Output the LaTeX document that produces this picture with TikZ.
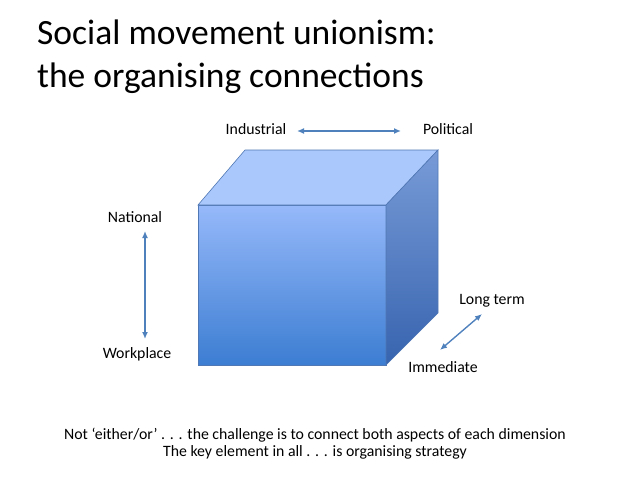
\documentclass[tikz,border=0pt]{standalone}
\usepackage{fontspec}
\usetikzlibrary{arrows.meta}
\setmainfont{Carlito}
\definecolor{frontTop}{RGB}{150,185,250}
\definecolor{frontBot}{RGB}{60,125,210}
\definecolor{topC}{RGB}{170,200,252}
\definecolor{sideTop}{RGB}{120,155,215}
\definecolor{sideBot}{RGB}{55,100,175}
\definecolor{edge}{RGB}{80,120,180}
\definecolor{arr}{RGB}{79,129,189}
\begin{document}
\begin{tikzpicture}[x=1pt,y=-1pt,
  lab/.style={font=\fontsize{15.8}{18}\selectfont,inner sep=0pt},
  dbl/.style={{Latex[length=7pt,width=6pt]}-{Latex[length=7pt,width=6pt]},draw=arr,line width=1.4pt}]
\useasboundingbox (0,0) rectangle (638,479);
% cube
\shade[top color=frontTop,bottom color=frontBot,draw=edge,line width=0.6pt] (198,205) rectangle (386,365);
\fill[topC,draw=edge,line width=0.6pt] (198,205) -- (245,150) -- (438,150) -- (386,205) -- cycle;
\shade[top color=sideTop,bottom color=sideBot,draw=edge,line width=0.6pt] (386,205) -- (438,150) -- (438,313) -- (386,365) -- cycle;
% title
\node[anchor=base west,font=\fontsize{35.5}{40}\selectfont,inner sep=0pt] (t1) at (37,45) {Social movement unionism:};
\node[anchor=base west,font=\fontsize{35.5}{40}\selectfont,inner sep=0pt] (t2) at (37,87) {the organising connections};
% labels
\node[lab] (ind) at (256,129) {Industrial};
\node[lab] (pol) at (448,129) {Political};
\node[lab] (nat) at (135,217) {National};
\node[lab] (wp) at (137,354) {Workplace};
\node[lab] (lt) at (492,301) {Long term};
\node[lab] (imm) at (443,367) {Immediate};
\coordinate (a1) at (297,131); \coordinate (a2) at (401,131);
\coordinate (b1) at (145,231); \coordinate (b2) at (145,339);
\coordinate (c1) at (440,350); \coordinate (c2) at (482,314);
\draw[dbl] (a1) -- (a2);
\draw[dbl] (b1) -- (b2);
\draw[dbl] (c1) -- (c2);
\node[lab] (n1) at (315,435) {Not ‘either/or’ . . . the challenge is to connect both aspects of each dimension};
\node[lab] (n2) at (315,452) {The key element in all . . . is organising strategy};
\end{tikzpicture}
\end{document}
